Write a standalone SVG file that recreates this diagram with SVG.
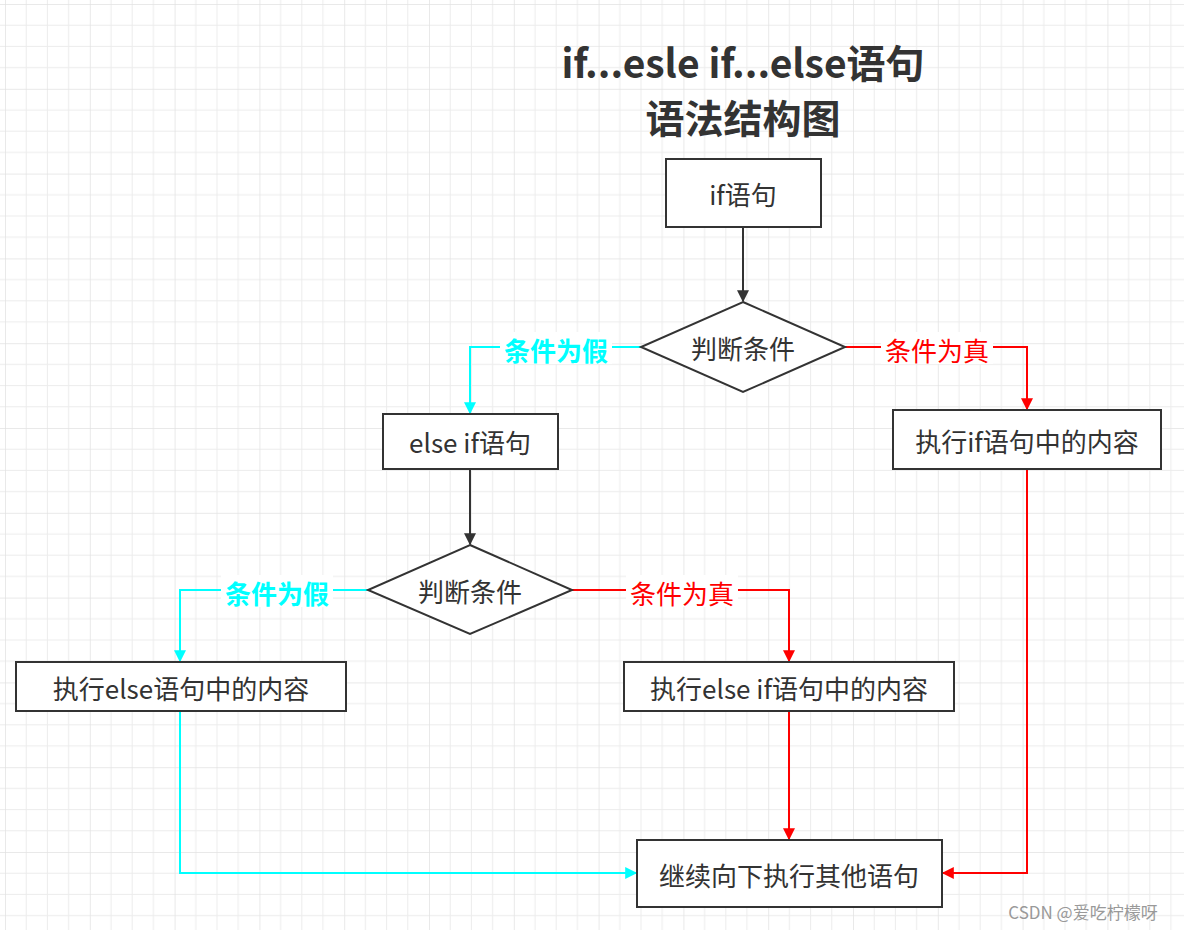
<svg xmlns="http://www.w3.org/2000/svg" width="1184" height="930" viewBox="0 0 1184 930">
<defs>
<pattern id="g" x="5" y="4" width="84.8" height="84.8" patternUnits="userSpaceOnUse">
<path d="M21.2 0V84.8M42.4 0V84.8M63.6 0V84.8M0 21.2H84.8M0 42.4H84.8M0 63.6H84.8" stroke="#ececec" stroke-width="1"/>
<path d="M0 0V84.8M0 0H84.8" stroke="#e2e2e2" stroke-width="1.5"/>
</pattern>
<marker id="ak" viewBox="0 0 10 10" refX="9" refY="5" markerWidth="14" markerHeight="12" orient="auto" markerUnits="userSpaceOnUse"><path d="M0 0L10 5L0 10z" fill="#333"/></marker>
<marker id="ar" viewBox="0 0 10 10" refX="9" refY="5" markerWidth="14" markerHeight="12" orient="auto" markerUnits="userSpaceOnUse"><path d="M0 0L10 5L0 10z" fill="#f00"/></marker>
<marker id="ac" viewBox="0 0 10 10" refX="9" refY="5" markerWidth="14" markerHeight="12" orient="auto" markerUnits="userSpaceOnUse"><path d="M0 0L10 5L0 10z" fill="#0ff"/></marker>
</defs>
<style>
text{font-family:"Microsoft YaHei","Noto Sans CJK SC",sans-serif;text-anchor:middle;dominant-baseline:central}
.n{fill:#fff;stroke:#333;stroke-width:2}
.t{font-size:26px;fill:#333}
.k{fill:none;stroke:#333;stroke-width:2}
.r{fill:none;stroke:#f00;stroke-width:2}
.c{fill:none;stroke:#0ff;stroke-width:2}
.lr{font-size:26px;fill:#f00}
.lc{font-size:26px;fill:#0ff;font-weight:bold}
</style>
<rect width="1184" height="930" fill="#fff"/>
<rect width="1184" height="930" fill="url(#g)"/>
<g id="title"><text x="743" y="61" font-size="39" font-weight="bold" fill="#333">if...esle if...else语句</text><text x="743" y="116" font-size="39" font-weight="bold" fill="#333">语法结构图</text></g>
<g id="connectors">
<path class="k" d="M743 228V301" marker-end="url(#ak)"/>
<path class="k" d="M470 470V544" marker-end="url(#ak)"/>
<path class="c" d="M641 347H470V413" marker-end="url(#ac)"/>
<path class="r" d="M845 347H1027V409" marker-end="url(#ar)"/>
<path class="c" d="M368 590H180V661" marker-end="url(#ac)"/>
<path class="r" d="M572 590H789V661" marker-end="url(#ar)"/>
<path class="c" d="M180 712V873H636" marker-end="url(#ac)"/>
<path class="r" d="M789 712V839" marker-end="url(#ar)"/>
<path class="r" d="M1027 470V873H943" marker-end="url(#ar)"/>
<rect x="500" y="332" width="112" height="32" fill="#fff"/><text class="lc" x="556" y="349">条件为假</text>
<rect x="881" y="332" width="112" height="32" fill="#fff"/><text class="lr" x="937" y="349">条件为真</text>
<rect x="221" y="575" width="112" height="32" fill="#fff"/><text class="lc" x="277" y="592">条件为假</text>
<rect x="626" y="575" width="112" height="32" fill="#fff"/><text class="lr" x="682" y="592">条件为真</text>
</g>
<g id="n1"><rect class="n" x="666" y="159" width="155" height="68"/><text class="t" x="743" y="193">if语句</text></g>
<g id="n2"><path class="n" d="M743 302L845 347L743 392L641 347z"/><text class="t" x="743" y="347">判断条件</text></g>
<g id="n3"><rect class="n" x="383" y="414" width="175" height="55"/><text class="t" x="470" y="441">else if语句</text></g>
<g id="n4"><rect class="n" x="893" y="410" width="268" height="59"/><text class="t" x="1027" y="440">执行if语句中的内容</text></g>
<g id="n5"><path class="n" d="M470 545L572 590L470 634L368 590z"/><text class="t" x="470" y="590">判断条件</text></g>
<g id="n6"><rect class="n" x="16" y="662" width="330" height="49"/><text class="t" x="181" y="687">执行else语句中的内容</text></g>
<g id="n7"><rect class="n" x="624" y="662" width="330" height="49"/><text class="t" x="789" y="687">执行else if语句中的内容</text></g>
<g id="n8"><rect class="n" x="637" y="840" width="305" height="67"/><text class="t" x="789" y="874">继续向下执行其他语句</text></g>
<text x="1083" y="911" font-size="17" fill="#999" font-family="Noto Sans CJK SC,sans-serif">CSDN @爱吃柠檬呀</text>
</svg>
